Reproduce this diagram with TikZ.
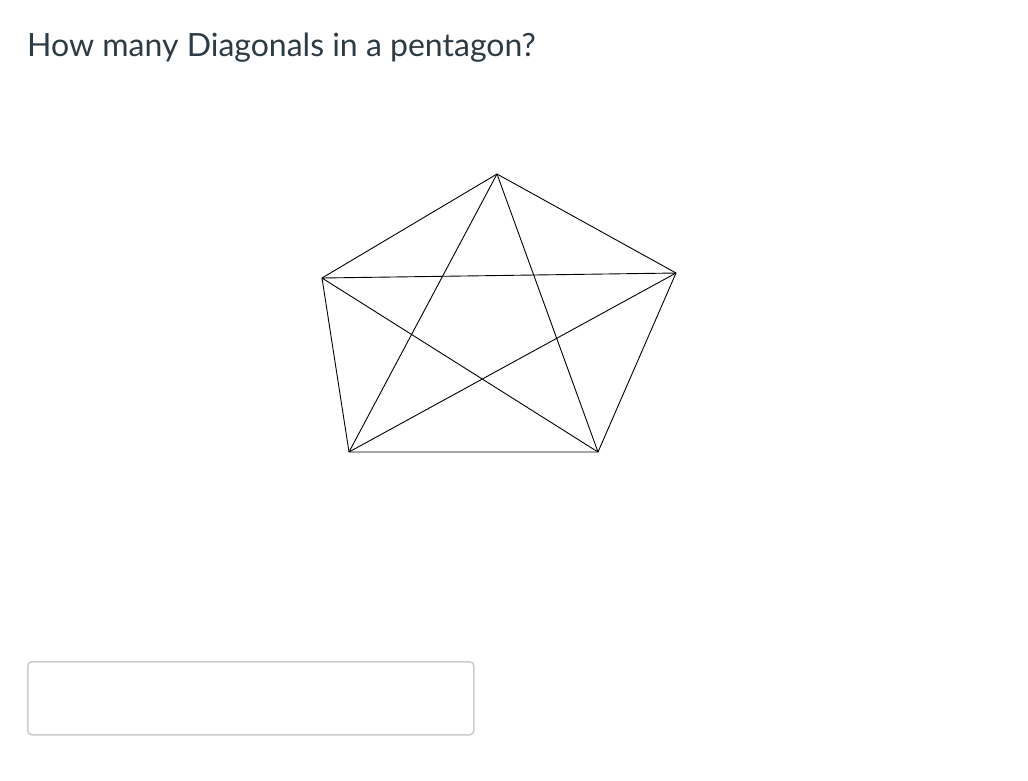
\documentclass[tikz,border=0pt]{standalone}
\usepackage{fontspec}
\setmainfont{Lato}
\definecolor{txt}{HTML}{2D3B45}
\definecolor{boxline}{HTML}{C7CDD1}
\begin{document}
\begin{tikzpicture}[x=1pt,y=-1pt,
  edge/.style={line width=0.9pt,black},
  answerbox/.style={draw=boxline,line width=1.5pt,rounded corners=4pt,fill=white}]
\useasboundingbox[fill=white] (0,0) rectangle (1028,780);
\node[anchor=base west,inner sep=0pt,text=txt,font=\fontsize{32}{38}\selectfont] (q) at (27,56) {How many Diagonals in a pentagon?};
\coordinate (A) at (497,174);
\coordinate (B) at (676,273);
\coordinate (C) at (598,452);
\coordinate (D) at (349,452);
\coordinate (E) at (322,278);
\draw[edge] (A) -- (B) -- (C) -- (D) -- (E) -- cycle;
\draw[edge] (A) -- (C) (A) -- (D) (B) -- (D) (B) -- (E) (C) -- (E);
\node[answerbox,minimum width=446pt,minimum height=73pt,anchor=north west,inner sep=0pt] (ans) at (27,661) {};
\end{tikzpicture}
\end{document}
